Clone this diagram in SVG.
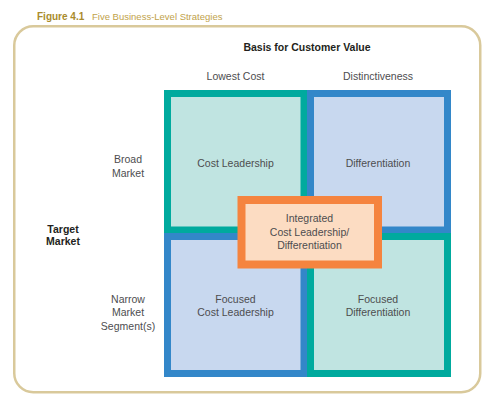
<svg xmlns="http://www.w3.org/2000/svg" width="493" height="403" viewBox="0 0 493 403">
<style>
text{font-family:"Liberation Sans",Arial,sans-serif;}
.lbl{font-size:10.5px;fill:#4d4d4f;text-anchor:middle;}
.hd{font-size:10.5px;font-weight:bold;fill:#231f20;text-anchor:middle;}
.teal{fill:#c0e4e1;stroke:#00aa9e;stroke-width:7;}
.blue{fill:#c8d8ef;stroke:#3387c9;stroke-width:7;}
.orange{fill:#fcdcc2;stroke:#f5843f;stroke-width:8;}
</style>
<rect width="493" height="403" fill="#ffffff"/>
<g id="title">
<text x="37" y="19.5" style="font-size:10px;font-weight:bold;fill:#a98b2c">Figure 4.1</text>
<text x="92" y="19.5" style="font-size:9.5px;fill:#bfa24a">Five Business-Level Strategies</text>
</g>
<rect id="frame" x="14.25" y="26.25" width="466" height="366" rx="19" fill="none" stroke="#d9c99b" stroke-width="2.5"/>
<g id="headers">
<text class="hd" x="307" y="51">Basis for Customer Value</text>
<text class="lbl" x="235.5" y="80">Lowest Cost</text>
<text class="lbl" x="378" y="80">Distinctiveness</text>
<text class="lbl" x="128" y="162.5">Broad</text>
<text class="lbl" x="128" y="176.5">Market</text>
<text class="hd" x="63" y="232.5">Target</text>
<text class="hd" x="63" y="245">Market</text>
<text class="lbl" x="128" y="302.5">Narrow</text>
<text class="lbl" x="128" y="316">Market</text>
<text class="lbl" x="128" y="329.5">Segment(s)</text>
</g>
<g id="cost-leadership">
<rect class="teal" x="167.5" y="93.5" width="136.5" height="136.5"/>
<text class="lbl" x="235.5" y="166.5">Cost Leadership</text>
</g>
<g id="differentiation">
<rect class="blue" x="310.5" y="93.5" width="137" height="136.5"/>
<text class="lbl" x="378" y="166.5">Differentiation</text>
</g>
<g id="focused-cost-leadership">
<rect class="blue" x="167.5" y="236.5" width="136.5" height="137"/>
<text class="lbl" x="235.5" y="302.5">Focused</text>
<text class="lbl" x="235.5" y="316">Cost Leadership</text>
</g>
<g id="focused-differentiation">
<rect class="teal" x="310.5" y="236.5" width="137" height="137"/>
<text class="lbl" x="378" y="302.5">Focused</text>
<text class="lbl" x="378" y="316">Differentiation</text>
</g>
<g id="integrated">
<rect class="orange" x="241.5" y="200" width="136.5" height="64.5"/>
<text class="lbl" x="309.5" y="221.5">Integrated</text>
<text class="lbl" x="309.5" y="235.5">Cost Leadership/</text>
<text class="lbl" x="309.5" y="249">Differentiation</text>
</g>
</svg>
